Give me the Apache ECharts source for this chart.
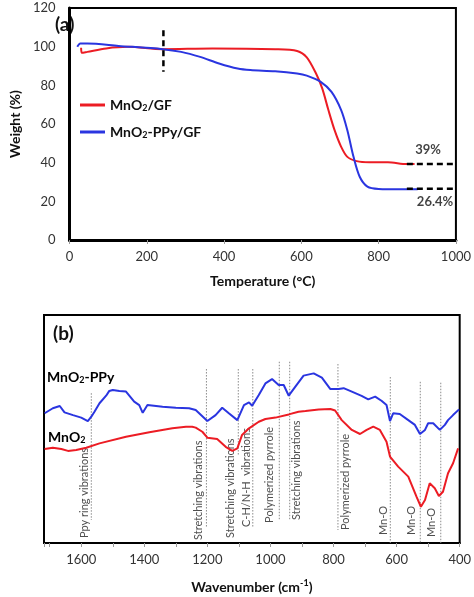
<!DOCTYPE html>
<html><head><meta charset="utf-8">
<script src="https://cdn.jsdelivr.net/npm/echarts@6/dist/echarts.min.js"></script>
<style>html,body{margin:0;padding:0;background:#fff}#c{width:474px;height:597px}</style>
</head><body><div id="c"></div>
<script>
// ---------- (a) TGA ----------
const tgaRedT  = [30, 32, 46, 95, 151, 241, 370, 532, 589, 614, 638, 654, 670, 686, 703, 719, 743, 776, 824, 873, 893];
const tgaRedW  = [99.4, 96.8, 97.3, 99.1, 99.9, 98.7, 99.1, 98.7, 97.8, 94.5, 86.1, 78.4, 67.2, 56.8, 48.2, 43.0, 40.8, 40.2, 40.2, 39.3, 39.3];
const tgaBlueT = [20, 28, 46, 127, 241, 289, 338, 387, 435, 468, 532, 589, 614, 650, 678, 703, 719, 735, 751, 771, 800, 857, 901];
const tgaBlueW = [99.9, 101.6, 101.6, 100.4, 98.7, 97.3, 94.7, 91.3, 88.7, 87.9, 87.3, 86.1, 85.0, 81.8, 76.6, 67.2, 56.8, 43.0, 32.7, 27.6, 26.4, 26.2, 26.2];
const tgaXTicks = [0, 200, 400, 600, 800, 1000];
const tgaYTicks = [0, 20, 40, 60, 80, 100, 120];
const markerT = 243, markerTop = 108.5, markerBottom = 87;
const residualStartT = 873, residualEndT = 1000;
const residualValues = [39.3, 26.5];
const residualLabels = ['39%', '26.4%'];
const residualLabelPos = [[928, 46.5], [946, 19.8]];
const tgaNames = ['MnO2/GF', 'MnO2-PPy/GF'];

// ---------- (b) FTIR ----------
const ftirBlueWn = [1716, 1690, 1668, 1653, 1626, 1600, 1579, 1568, 1558, 1542, 1521, 1511, 1500, 1479, 1458, 1453, 1432, 1416, 1405, 1390, 1342, 1300, 1258, 1237, 1200, 1174, 1153, 1132, 1105, 1084, 1068, 1058, 1037, 1016, 995, 974, 958, 942, 921, 895, 863, 837, 810, 784, 768, 742, 711, 690, 668, 648, 632, 621, 611, 590, 563, 542, 526, 510, 500, 484, 463, 447, 437, 421, 402];
const ftirBlueT  = [56.9, 59.1, 60.1, 57.3, 56.1, 55.0, 53.5, 55.4, 57.6, 61.3, 64.6, 66.7, 67.1, 66.7, 66.4, 65.7, 62.0, 60.5, 57.1, 60.5, 59.8, 59.3, 59.1, 58.3, 53.5, 56.1, 59.3, 56.9, 53.9, 60.5, 61.7, 60.2, 64.9, 70.0, 71.9, 69.3, 69.3, 64.6, 68.6, 73.4, 74.4, 72.5, 67.5, 67.5, 67.9, 66.4, 64.5, 63.0, 64.2, 62.4, 60.5, 53.5, 56.9, 56.6, 53.9, 51.8, 47.8, 49.6, 52.5, 52.5, 49.6, 51.8, 53.9, 56.1, 58.6];
const ftirRedWn  = [1716, 1690, 1663, 1642, 1616, 1584, 1542, 1458, 1384, 1311, 1268, 1248, 1237, 1216, 1200, 1169, 1142, 1121, 1105, 1090, 1068, 1037, 1016, 984, 942, 911, 889, 847, 810, 795, 774, 742, 716, 695, 674, 653, 632, 621, 595, 563, 537, 523, 510, 495, 479, 466, 453, 437, 421, 405];
const ftirRedT   = [41.2, 41.8, 41.2, 40.4, 40.8, 41.8, 43.7, 46.6, 48.6, 50.3, 51.0, 51.0, 50.6, 48.8, 46.2, 45.6, 42.2, 40.4, 41.5, 47.4, 50.3, 53.2, 54.4, 55.0, 56.4, 57.6, 57.9, 58.6, 58.8, 58.1, 53.9, 49.6, 47.8, 49.6, 51.0, 49.6, 44.4, 37.9, 33.5, 29.1, 20.3, 15.9, 18.9, 26.2, 24.0, 20.6, 22.5, 30.6, 35.0, 41.5];
const ftirXTicks = [400, 600, 800, 1000, 1200, 1400, 1600];
const guideWn     = [1568, 1203, 1102, 1056, 972, 939, 786, 620, 525, 460];
const guideTop    = [65.7, 76.3, 76.3, 76.3, 79.5, 79.5, 78.5, 72.8, 70.7, 70.3];
const guideBottom = [10.1, 7.0, 38.6, 7.0, 10.1, 10.1, 5.7, 0, 0, 0];
const bandTexts = ['Ppy ring vibrations', 'Stretching vibrations', 'Stretching vibrations', 'C-H/N-H  vibrations', 'Polymerized pyrrole', 'Stretching vibrations', 'Polymerized pyrrole', 'Mn-O', 'Mn-O', 'Mn-O'];
const bandTextWn  = [1590, 1229, 1126, 1077, 1003, 916, 763, 642, 553, 490];
const bandTextBase = [2.2, 1.3, 2.2, 7.0, 8.8, 10.1, 5.7, 3.5, 3.5, 2.6];

const RED = '#ec1c24', BLUE = '#2a35e0';
const FONT = 'Lato';
const zip = (a, b) => a.map((v, i) => [v, b[i]]);
const richSub = {
  b: {fontFamily: FONT, fontWeight: 'bold', fontSize: 14, color: '#111', lineHeight: 16},
  s: {fontFamily: FONT, fontWeight: 'bold', fontSize: 9, color: '#111', lineHeight: 16, padding: [7, 0, 0, 0]}
};

const series = [
  {type: 'line', name: tgaNames[0], xAxisIndex: 0, yAxisIndex: 0, data: zip(tgaRedT, tgaRedW), smooth: 0.3, showSymbol: false, lineStyle: {color: RED, width: 2}, itemStyle: {color: RED}, z: 3},
  {type: 'line', name: tgaNames[1], xAxisIndex: 0, yAxisIndex: 0, data: zip(tgaBlueT, tgaBlueW), smooth: 0.3, showSymbol: false, lineStyle: {color: BLUE, width: 2}, itemStyle: {color: BLUE}, z: 3},
  {type: 'line', xAxisIndex: 0, yAxisIndex: 0, data: [[markerT, markerTop], [markerT, markerBottom]], showSymbol: false, lineStyle: {color: '#000', width: 2.5, type: [6, 4]}, z: 4},
];
residualValues.forEach(v => series.push({type: 'line', xAxisIndex: 0, yAxisIndex: 0, data: [[residualStartT, v], [residualEndT, v]], showSymbol: false, lineStyle: {color: '#000', width: 2.5, type: [6, 4]}, z: 4}));
series.push({type: 'scatter', xAxisIndex: 0, yAxisIndex: 0, symbolSize: 1, itemStyle: {color: 'rgba(0,0,0,0)'},
  data: residualLabelPos.map((p, i) => ({value: p, name: residualLabels[i]})),
  label: {show: true, position: 'inside', formatter: p => p.name, fontFamily: FONT, fontWeight: 'bold', fontSize: 13, color: '#111'}});

guideWn.forEach((w, i) => series.push({type: 'line', xAxisIndex: 1, yAxisIndex: 1, data: [[w, guideTop[i]], [w, guideBottom[i]]], showSymbol: false, lineStyle: {color: '#8a8a8a', width: 1, type: [1.5, 1.5]}, z: 1}));
series.push({type: 'line', xAxisIndex: 1, yAxisIndex: 1, data: zip(ftirBlueWn, ftirBlueT), showSymbol: false, lineStyle: {color: BLUE, width: 2}, z: 3});
series.push({type: 'line', xAxisIndex: 1, yAxisIndex: 1, data: zip(ftirRedWn, ftirRedT), showSymbol: false, lineStyle: {color: RED, width: 2}, z: 3});
series.push({type: 'scatter', xAxisIndex: 1, yAxisIndex: 1, symbolSize: 1, itemStyle: {color: 'rgba(0,0,0,0)'},
  data: bandTexts.map((t, i) => ({value: [bandTextWn[i], bandTextBase[i]], name: t})),
  label: {show: true, position: 'inside', rotate: 90, align: 'left', verticalAlign: 'middle', formatter: p => p.name, fontFamily: FONT, fontSize: 11, color: '#222'}});

const chart = echarts.init(document.getElementById('c'), null, {renderer: 'canvas'});
chart.setOption({
  animation: false,
  backgroundColor: '#fff',
  grid: [
    {left: 48, top: 8, right: 15, bottom: 357, show: true, borderColor: '#000', borderWidth: 2, backgroundColor: 'transparent'},
    {left: 44, top: 315, right: 12, bottom: 54, show: true, borderColor: '#000', borderWidth: 2, backgroundColor: 'transparent'}
  ],
  xAxis: [
    {gridIndex: 0, type: 'value', min: tgaXTicks[0], max: tgaXTicks[tgaXTicks.length - 1], interval: 200,
     name: 'Temperature (°C)', nameLocation: 'middle', nameGap: 34,
     nameTextStyle: {fontFamily: FONT, fontWeight: 'bold', fontSize: 14, color: '#111'},
     axisLine: {lineStyle: {color: '#000', width: 3}}, axisTick: {show: true, length: 4, lineStyle: {color: '#999'}},
     axisLabel: {fontFamily: FONT, fontSize: 13, color: '#333', margin: 10, formatter: v => String(v)}, splitLine: {show: false}},
    {gridIndex: 1, type: 'value', inverse: true, min: ftirXTicks[0], max: 1718, interval: 100,
     name: 'Wavenumber (cm{sup|-1})', nameLocation: 'middle', nameGap: 36,
     nameTextStyle: {fontFamily: FONT, fontWeight: 'bold', fontSize: 14, color: '#111',
       rich: {sup: {fontFamily: FONT, fontWeight: 'bold', fontSize: 9, color: '#111', padding: [0, 0, 8, 0]}}},
     axisLine: {lineStyle: {color: '#000', width: 2}}, axisTick: {show: true, length: 4, lineStyle: {color: '#999'}},
     axisLabel: {fontFamily: FONT, fontSize: 13, color: '#333', margin: 10,
       formatter: v => ftirXTicks.includes(v) ? String(v) : ''}, splitLine: {show: false}}
  ],
  yAxis: [
    {gridIndex: 0, type: 'value', min: tgaYTicks[0], max: tgaYTicks[tgaYTicks.length - 1], interval: 20,
     name: 'Weight (%)', nameLocation: 'middle', nameGap: 38,
     nameTextStyle: {fontFamily: FONT, fontWeight: 'bold', fontSize: 14, color: '#111'},
     axisLine: {show: true, lineStyle: {color: '#000', width: 3}}, axisTick: {show: false},
     axisLabel: {fontFamily: FONT, fontSize: 13, color: '#333', margin: 14}, splitLine: {show: false}},
    {gridIndex: 1, type: 'value', min: 0, max: 100, axisLine: {show: true, lineStyle: {color: '#000', width: 2}},
     axisTick: {show: false}, axisLabel: {show: false}, splitLine: {show: false}}
  ],
  legend: {
    data: tgaNames, orient: 'vertical', left: 75, top: 92, itemGap: 11, itemWidth: 25, itemHeight: 3, icon: 'rect',
    selectedMode: false,
    formatter: n => n === tgaNames[0] ? '{b|MnO}{s|2}{b|/GF}' : '{b|MnO}{s|2}{b|-PPy/GF}',
    textStyle: {rich: richSub}
  },
  graphic: [
    {type: 'text', left: 55, top: 15, style: {text: '(a)', fontFamily: FONT, fontWeight: 'bold', fontSize: 19, fill: '#111'}},
    {type: 'text', left: 53, top: 324, style: {text: '(b)', fontFamily: FONT, fontWeight: 'bold', fontSize: 19, fill: '#111'}},
    {type: 'text', left: 47, top: 369, style: {text: '{b|MnO}{s|2}{b|-PPy}', rich: richSub}},
    {type: 'text', left: 48, top: 429, style: {text: '{b|MnO}{s|2}', rich: richSub}}
  ],
  series: series
});
</script></body></html>
